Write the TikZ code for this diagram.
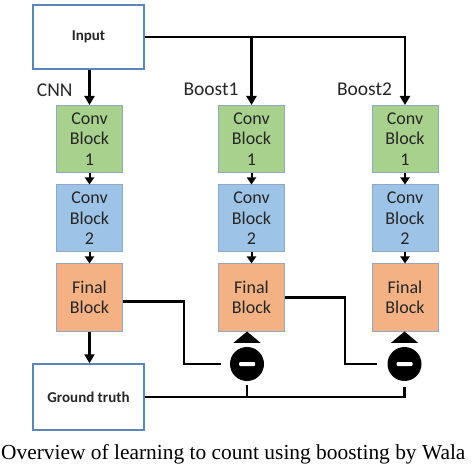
\documentclass[tikz,border=0pt]{standalone}
\usepackage{fontspec}
\setmainfont{Carlito}
\newfontfamily\capfont{Liberation Serif}
\usetikzlibrary{arrows.meta,calc}
\definecolor{gfill}{HTML}{A9D18E}
\definecolor{bfill}{HTML}{9DC3E6}
\definecolor{ofill}{HTML}{F4B183}
\definecolor{bord}{HTML}{8EA9C8}
\definecolor{iobord}{HTML}{5B87B8}
\definecolor{txt}{HTML}{262626}
\begin{document}
\begin{tikzpicture}[x=1pt,y=-1pt,
  blk/.style={draw=bord,line width=1pt,minimum width=66pt,minimum height=67pt,inner sep=0pt,
    align=center,text=txt,font=\fontsize{18}{20.5}\selectfont},
  io/.style={draw=iobord,line width=1.5pt,fill=white,minimum width=111pt,inner sep=0pt,
    font=\fontsize{15}{18}\selectfont\bfseries,text=txt},
  lbl/.style={font=\fontsize{19.5}{22}\selectfont,text=txt,inner sep=0pt},
  conn/.style={line width=2.8pt,line cap=butt},
  arr/.style={conn,-{Triangle[width=10pt,length=9pt]}},
  sarr/.style={line width=2pt,-{Triangle[width=9pt,length=7pt]}},
  minus/.style={circle,fill=black,minimum size=34pt,inner sep=0pt},
]
\useasboundingbox (0,0) rectangle (474,465);
% input and ground truth
\node[io,minimum height=64pt] (in) at (88.5,37) {Input};
\node[io,minimum height=66pt] (gt) at (88.5,397) {Ground truth};
% labels
\node[lbl] (lc) at (54.7,90) {CNN};
\node[lbl] (lb1) at (211,89) {Boost1};
\node[lbl] (lb2) at (364.5,89) {Boost2};
% CNN column
\node[blk,fill=gfill] (a0) at (89.5,139) {Conv\\Block\\1};
\node[blk,fill=bfill] (b0) at (89.5,218.5) {Conv\\Block\\2};
\node[blk,fill=ofill] (f0) at (89.5,297.5) {Final\\Block};
% Boost1 column
\node[blk,fill=gfill] (a1) at (251.5,139) {Conv\\Block\\1};
\node[blk,fill=bfill] (b1) at (251.5,218.5) {Conv\\Block\\2};
\node[blk,fill=ofill] (f1) at (251.5,297.5) {Final\\Block};
% Boost2 column
\node[blk,fill=gfill] (a2) at (405,139) {Conv\\Block\\1};
\node[blk,fill=bfill] (b2) at (405,218.5) {Conv\\Block\\2};
\node[blk,fill=ofill] (f2) at (405,297.5) {Final\\Block};
% minus circles
\node[minus] (m1) at (247,364) {};
\node[minus] (m2) at (404.5,364) {};
\fill[white,rounded corners=1pt] ($(m1.center)+(-8,-2)$) rectangle ($(m1.center)+(8,2)$);
\fill[white,rounded corners=1pt] ($(m2.center)+(-8,-2)$) rectangle ($(m2.center)+(8,2)$);
\fill ($(m1.north)+(-13.5,-4)$) -- ($(m1.north)+(13.5,-4)$) -- (m1.north |- f1.south) -- cycle;
\fill ($(m2.north)+(-13.5,-4)$) -- ($(m2.north)+(13.5,-4)$) -- (m2.north |- f2.south) -- cycle;
% connectors
\draw[arr] (in.south -| a0) -- (a0.north);
\draw[arr] (in.east) -| (a2.north);
\draw[arr] (in.east -| a1) -- (a1.north);
\draw[sarr] (a0) -- (b0);
\draw[sarr] (b0) -- (f0);
\draw[sarr] (a1) -- (b1);
\draw[sarr] (b1) -- (f1);
\draw[sarr] (a2) -- (b2);
\draw[sarr] (b2) -- (f2);
\draw[arr] (f0.south) -- (gt.north -| f0);
\draw[conn,shorten >=9pt] ([yshift=-4pt]f0.east) -- ++(61,0) |- (m1.west);
\draw[conn,shorten >=10pt] (f1.east) -- ++(60,0) |- (m2.west);
\draw[conn] (gt.east) -| ([yshift=-6pt]m2.south);
\draw[conn] (gt.east -| m1) -- ([yshift=-4pt]m1.south);
% caption
\node[anchor=base west,inner sep=0pt,font=\capfont\fontsize{21.4}{25}\selectfont] (cap) at (1,459)
  {Overview of learning to count using boosting by Wala};
\end{tikzpicture}
\end{document}
